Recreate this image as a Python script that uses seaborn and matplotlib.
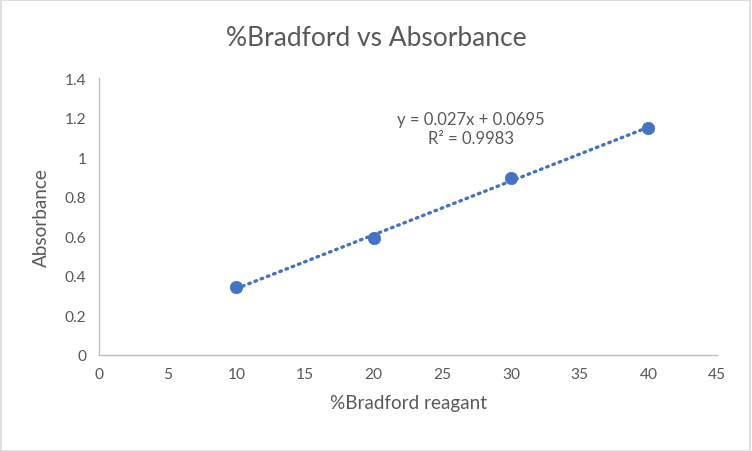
import seaborn as sns
import pandas as pd
import numpy as np
import matplotlib.pyplot as plt
from matplotlib.patches import Rectangle

# %Bradford reagant vs absorbance
bradford = [10, 20, 30, 40]
absorbance = [0.342, 0.590, 0.895, 1.147]
eq_text = "y = 0.027x + 0.0695\nR² = 0.9983"

data = pd.DataFrame({'bradford': bradford, 'absorbance': absorbance})

sns.set_style("white")
plt.rcParams['font.family'] = ['Lato', 'DejaVu Sans']
grey = '#595959'
blue = '#4472C4'

fig = plt.figure(figsize=(7.52, 4.52), dpi=100)
ax = fig.add_axes([0.1316, 0.2124, 0.822, 0.6128])

# linear trendline
m, b = np.polyfit(data['bradford'], data['absorbance'], 1)
trend = pd.DataFrame({'x': [min(bradford), max(bradford)]})
trend['y'] = m * trend['x'] + b
sns.lineplot(x='x', y='y', data=trend, ax=ax, color=blue, linewidth=2.4,
             linestyle=(0, (0.5, 1.5)), dash_capstyle='round')

sns.scatterplot(x='bradford', y='absorbance', data=data, ax=ax, color=blue,
                s=80, edgecolor=blue, linewidth=0.5, zorder=3)

ax.set_xlim(0, 45)
ax.set_ylim(0, 1.4)
ax.set_xticks(np.arange(0, 46, 5))
ax.set_yticks(np.arange(0, 1.41, 0.2))
ax.set_yticklabels(['0', '0.2', '0.4', '0.6', '0.8', '1', '1.2', '1.4'])
ax.tick_params(length=0, labelsize=11.2, labelcolor=grey, pad=9)
for s in ['top', 'right']:
    ax.spines[s].set_visible(False)
for s in ['left', 'bottom']:
    ax.spines[s].set_color('#bfbfbf')
    ax.spines[s].set_linewidth(1)

ax.set_xlabel("%Bradford reagant", fontsize=13.6, color=grey, labelpad=9)
ax.set_ylabel("Absorbance", fontsize=13.6, color=grey, labelpad=11)
# title is centred on the whole chart, not the plot area
fig.suptitle("%Bradford vs Absorbance", x=0.5, y=0.942, fontsize=19, color=grey)

ax.text(27.1, 1.145, eq_text, ha='center', va='center', fontsize=12,
        color=grey, linespacing=1.25)

fig.patches.append(Rectangle((0.001, 0.001), 0.997, 0.997, transform=fig.transFigure,
                             fill=False, edgecolor='#d9d9d9', linewidth=1.2))

plt.savefig('out.png', dpi=100)
